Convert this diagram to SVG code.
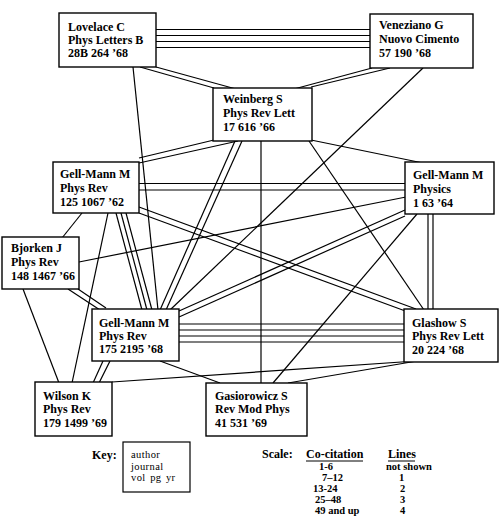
<svg xmlns="http://www.w3.org/2000/svg" width="500" height="529" viewBox="0 0 500 529">
<style>
.n rect{fill:#fff;stroke:#000;stroke-width:1.4}
.n text,.lbl{font-family:"Liberation Serif","Times New Roman",serif;font-weight:bold;font-size:12px;fill:#000}
.row{font-family:"Liberation Serif","Times New Roman",serif;font-weight:bold;font-size:10.5px;fill:#000}
.reg{font-family:"Liberation Serif","Times New Roman",serif;font-size:10.5px;letter-spacing:0.4px;word-spacing:1.5px;fill:#000}
#connectors line{stroke:#000;stroke-width:1.2;fill:none}
.ul{stroke:#000;stroke-width:1}
</style>
<rect width="500" height="529" fill="#fff"/>
<g id="connectors">
  <g id="e-lovelace-veneziano"><line x1="150" y1="29.5" x2="375" y2="29.5"/><line x1="150" y1="35.5" x2="375" y2="35.5"/><line x1="150" y1="41.5" x2="375" y2="41.5"/><line x1="150" y1="47.5" x2="375" y2="47.5"/></g>
  <g id="e-lovelace-weinberg"><line x1="140" y1="67" x2="214" y2="88"/><line x1="156" y1="67" x2="236" y2="89"/></g>
  <g id="e-veneziano-weinberg"><line x1="372" y1="68" x2="294" y2="89"/><line x1="390" y1="68" x2="311" y2="87"/></g>
  <g id="e-lovelace-gm68"><line x1="133" y1="67" x2="158" y2="310"/></g>
  <g id="e-weinberg-gm62"><line x1="139" y1="163" x2="238" y2="141"/><line x1="139" y1="158" x2="214" y2="140"/></g>
  <g id="e-weinberg-physics"><line x1="311" y1="140" x2="423" y2="163"/></g>
  <g id="e-veneziano-gm68"><line x1="423" y1="68" x2="170" y2="310"/></g>
  <g id="e-weinberg-glashow"><line x1="309" y1="141" x2="424" y2="310"/></g>
  <g id="e-weinberg-gasiorowicz"><line x1="261" y1="141" x2="261" y2="384"/></g>
  <g id="e-weinberg-gm68"><line x1="235" y1="141" x2="160" y2="310"/><line x1="242" y1="141" x2="166" y2="310"/></g>
  <g id="e-gm62-physics"><line x1="139" y1="183.5" x2="405" y2="183.5"/><line x1="139" y1="190" x2="405" y2="190"/></g>
  <g id="e-gm62-glashow"><line x1="139" y1="207" x2="416" y2="309"/><line x1="139" y1="213" x2="404" y2="310.5"/></g>
  <g id="e-gm62-gm68"><line x1="116" y1="213" x2="142" y2="310"/><line x1="121" y1="213" x2="147" y2="310"/><line x1="126" y1="213" x2="152" y2="310"/></g>
  <g id="e-gm62-wilson"><line x1="108" y1="213" x2="72" y2="383"/></g>
  <g id="e-gm62-bjorken"><line x1="82" y1="213" x2="62" y2="238"/></g>
  <g id="e-bjorken-physics"><line x1="79" y1="262" x2="406" y2="197"/></g>
  <g id="e-bjorken-gm68"><line x1="68" y1="289" x2="100" y2="310"/><line x1="78" y1="289" x2="106" y2="308"/></g>
  <g id="e-bjorken-wilson"><line x1="23" y1="289" x2="59" y2="383"/></g>
  <g id="e-gm68-wilson"><line x1="103" y1="361" x2="93" y2="383"/><line x1="110" y1="361" x2="99" y2="383"/></g>
  <g id="e-wilson-glashow"><line x1="112" y1="382" x2="416" y2="361"/></g>
  <g id="e-gm68-gasiorowicz"><line x1="160" y1="361" x2="220" y2="383"/></g>
  <g id="e-gasiorowicz-glashow"><line x1="288" y1="383" x2="417" y2="361"/></g>
  <g id="e-gm68-glashow"><line x1="179" y1="324" x2="404" y2="324"/><line x1="179" y1="330" x2="404" y2="330"/><line x1="179" y1="336" x2="404" y2="336"/><line x1="179" y1="342" x2="404" y2="342"/></g>
  <g id="e-physics-glashow"><line x1="428" y1="214" x2="428" y2="309"/><line x1="433" y1="214" x2="433" y2="309"/></g>
  <g id="e-physics-gm68"><line x1="405" y1="210" x2="179" y2="311"/><line x1="405" y1="216" x2="179" y2="317"/></g>
  <g id="e-physics-gasiorowicz"><line x1="417" y1="214" x2="273" y2="383"/></g>
</g>
<g id="n-lovelace" class="n"><rect x="59" y="13" width="97" height="54"/><text x="68" y="31">Lovelace C</text><text x="68" y="44">Phys Letters B</text><text x="68" y="57">28B 264 ’68</text></g>
<g id="n-veneziano" class="n"><rect x="370" y="14" width="103" height="54"/><text x="379" y="29">Veneziano G</text><text x="379" y="43">Nuovo Cimento</text><text x="379" y="57">57 190 ’68</text></g>
<g id="n-weinberg" class="n"><rect x="213" y="88" width="99" height="53"/><text x="223" y="103">Weinberg S</text><text x="223" y="117">Phys Rev Lett</text><text x="223" y="131">17 616 ’66</text></g>
<g id="n-gm62" class="n"><rect x="53" y="162" width="86" height="51"/><text x="60" y="178">Gell-Mann M</text><text x="60" y="192">Phys Rev</text><text x="60" y="206">125 1067 ’62</text></g>
<g id="n-physics" class="n"><rect x="405" y="162" width="89" height="52"/><text x="413" y="179">Gell-Mann M</text><text x="413" y="193">Physics</text><text x="413" y="207">1 63 ’64</text></g>
<g id="n-bjorken" class="n"><rect x="2" y="237" width="77" height="52"/><text x="11" y="252">Bjorken J</text><text x="11" y="266">Phys Rev</text><text x="11" y="280">148 1467 ’66</text></g>
<g id="n-gm68" class="n"><rect x="92" y="309" width="87" height="52"/><text x="99" y="327">Gell-Mann M</text><text x="99" y="340">Phys Rev</text><text x="99" y="353">175 2195 ’68</text></g>
<g id="n-glashow" class="n"><rect x="404" y="309" width="94" height="53"/><text x="412" y="327">Glashow S</text><text x="412" y="340">Phys Rev Lett</text><text x="412" y="354">20 224 ’68</text></g>
<g id="n-wilson" class="n"><rect x="35" y="382" width="77" height="54"/><text x="43" y="400">Wilson K</text><text x="43" y="413">Phys Rev</text><text x="43" y="427">179 1499 ’69</text></g>
<g id="n-gasiorowicz" class="n"><rect x="206" y="383" width="101" height="53"/><text x="215" y="400">Gasiorowicz S</text><text x="215" y="413">Rev Mod Phys</text><text x="215" y="427">41 531 ’69</text></g>
<g id="key">
  <text class="lbl" x="92" y="459">Key:</text>
  <rect x="123" y="442" width="67" height="50" fill="#fff" stroke="#000" stroke-width="1.2"/>
  <text class="reg" x="131" y="458">author</text>
  <text class="reg" x="131" y="469.5">journal</text>
  <text class="reg" x="131" y="481">vol pg yr</text>
</g>
<g id="scale">
  <text class="lbl" x="262" y="458">Scale:</text>
  <text class="lbl" x="306" y="458">Co-citation</text>
  <line class="ul" x1="306" y1="461" x2="363" y2="461"/>
  <text class="lbl" x="388" y="458">Lines</text>
  <line class="ul" x1="388" y1="461" x2="415" y2="461"/>
  <text class="row" x="319" y="470">1-6</text>
  <text class="row" x="322" y="481">7–12</text>
  <text class="row" x="313" y="492">13-24</text>
  <text class="row" x="315" y="503">25–48</text>
  <text class="row" x="315" y="514">49 and up</text>
  <text class="row" x="386" y="470">not shown</text>
  <text class="row" x="399" y="481">1</text>
  <text class="row" x="400" y="492">2</text>
  <text class="row" x="400" y="503">3</text>
  <text class="row" x="400" y="514">4</text>
</g>
</svg>
